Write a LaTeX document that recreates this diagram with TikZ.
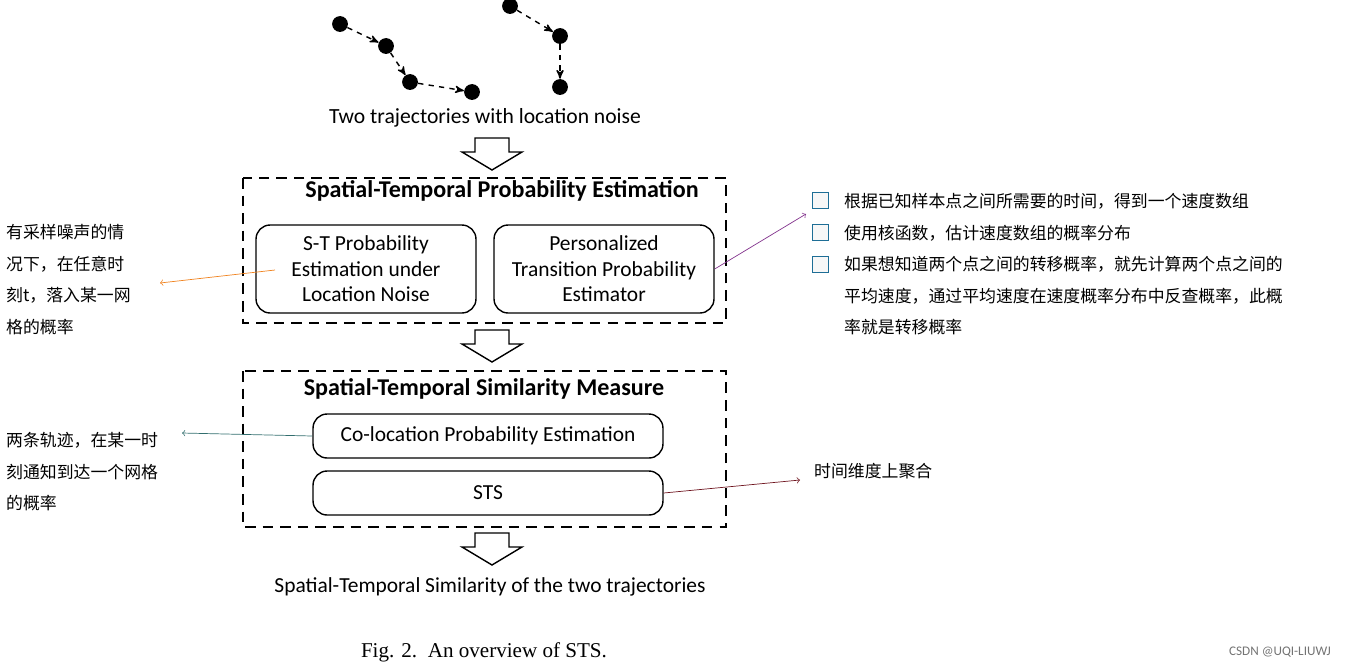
\documentclass[tikz,border=0pt]{standalone}
\usepackage{fontspec}
\setmainfont{Carlito}
\newfontfamily\cjk{Noto Sans CJK SC}
\newfontfamily\capfont{Liberation Serif}
\usetikzlibrary{positioning, arrows, shapes.geometric}
\definecolor{boxblue}{RGB}{30,110,150}
\definecolor{arrorange}{RGB}{240,130,30}
\definecolor{arrteal}{RGB}{50,110,110}
\definecolor{arrpurple}{RGB}{130,50,140}
\definecolor{arrred}{RGB}{110,20,30}
\tikzset{
  dot/.style={circle,fill=black,inner sep=0pt,minimum size=9pt},
  hop/.style={->,>=stealth',dashed,thick},
  stage/.style={draw,dash pattern=on 6pt off 4pt,thick},
  block/.style={rectangle,rounded corners=8pt,draw,thick,align=center,font=\fontsize{12.2}{14.5}\selectfont},
  note/.style={anchor=north west,align=left,font=\cjk\fontsize{9.6}{18}\selectfont},
  check/.style={draw=boxblue,fill=black!3,minimum size=9pt,inner sep=0pt},
  fat/.style={draw,thick,fill=white},
  point/.style={->,>=to}
}
\begin{document}
\begin{tikzpicture}[x=0.02cm,y=-0.02cm]
		\useasboundingbox (0,0) rectangle (1351,670);
		% trajectories
		\node[dot] (a1) at (340,24) {};
		\node[dot] (a2) at (386,46) {};
		\node[dot] (a3) at (410,82) {};
		\node[dot] (a4) at (472,92) {};
		\node[dot] (b1) at (510,6) {};
		\node[dot] (b2) at (560,36) {};
		\node[dot] (b3) at (560,87) {};
		\path[hop] (a1) edge (a2) (a2) edge (a3) (a3) edge (a4);
		\path[hop] (b1) edge (b2) (b2) edge (b3);
		\node[font=\fontsize{12.3}{14}\selectfont] (t0) at (485,118) {Two trajectories with location noise};
		
		% hollow arrows
		\foreach \x/\y in {492/138, 492/330, 492/533}
		\draw[fat] (\x-17,\y) -- (\x+17,\y) -- (\x+17,\y+14) -- (\x+30,\y+14) -- (\x,\y+32) -- (\x-30,\y+14) -- (\x-17,\y+14) -- cycle;
		
		% stage 1
		\draw[stage] (243,178) rectangle (726,323);
		\node[font=\bfseries\fontsize{13.7}{15}\selectfont] (s1) at (502,191) {Spatial-Temporal Probability Estimation};
		\node[block,minimum width=4.4cm,minimum height=1.76cm] (r1) at (366,269) {S-T Probability\\Estimation under\\Location Noise};
		\node[block,minimum width=4.4cm,minimum height=1.76cm] (r2) at (604,269) {Personalized\\Transition Probability\\Estimator};
		
		% stage 2
		\draw[stage] (243,371) rectangle (726,527);
		\node[font=\bfseries\fontsize{13.7}{15}\selectfont] (s2) at (484,389) {Spatial-Temporal Similarity Measure};
		\node[block,minimum width=7cm,minimum height=0.88cm] (r3) at (488,436) {Co-location Probability Estimation};
		\node[block,minimum width=7cm,minimum height=0.88cm] (r4) at (488,493) {STS};
		
		\node[font=\fontsize{12.2}{14}\selectfont] (t1) at (490,587) {Spatial-Temporal Similarity of the two trajectories};
		\node[font=\capfont\fontsize{12}{14}\selectfont] (cap) at (484,652) {Fig. 2.\ \ An overview of STS.};
		
		% notes
		\node[note] (n1) at (0,218) {有采样噪声的情\\况下，在任意时\\刻t，落入某一网\\格的概率};
		\node[note] (n2) at (0,426) {两条轨迹，在某一时\\刻通知到达一个网格\\的概率};
		\node[note] (n3) at (838,187) {根据已知样本点之间所需要的时间，得到一个速度数组\\使用核函数，估计速度数组的概率分布\\如果想知道两个点之间的转移概率，就先计算两个点之间的\\平均速度，通过平均速度在速度概率分布中反查概率，此概\\率就是转移概率};
		\node[note] (n4) at (808,457) {时间维度上聚合};
		\foreach \y [count=\i] in {200,232,264}
		\node[check] (c\i) at (820,\y) {};
		\node[font=\fontsize{7.5}{9}\selectfont,text=black!55] (wm) at (1280,652) {CSDN @UQI-LIUWJ};
		
		% pointers
		\coordinate (q1) at (275,270);
		\coordinate (p1) at (160,283);
		\coordinate (p2) at (182,433);
		\coordinate (p3) at (806,214);
		\coordinate (p4) at (800,480);
		\path[point,arrorange] (q1) edge (p1);
		\path[point,arrteal] (r3.west) edge (p2);
		\path[point,arrpurple] (r2.east) edge (p3);
		\path[point,arrred] (r4.east) edge (p4);
		
	\end{tikzpicture}
\end{document}
